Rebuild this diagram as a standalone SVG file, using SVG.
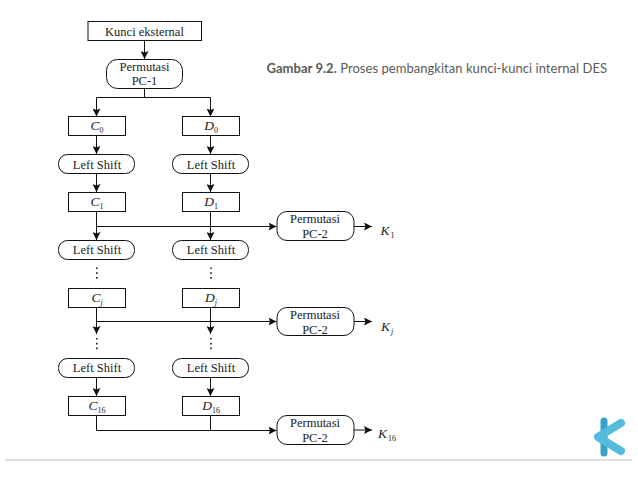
<svg xmlns="http://www.w3.org/2000/svg" width="638" height="479" viewBox="0 0 638 479">
<defs>
<marker id="a" markerUnits="userSpaceOnUse" markerWidth="9" markerHeight="8" refX="8" refY="4" orient="auto"><path d="M0 0L8 4L0 8L1.5 4Z" fill="#111"/></marker>
</defs>
<style>
.b{fill:#fff;stroke:#111;stroke-width:1}
.t{font-family:"Liberation Serif",serif;font-size:12.5px;fill:#222;text-anchor:middle}
.i{font-style:italic;font-size:13.5px}
.s{font-size:8px}
.c{fill:none;stroke:#111;stroke-width:1}
.d{fill:none;stroke:#222;stroke-width:1.6;stroke-dasharray:1.6 3.2}
</style>
<rect width="638" height="479" fill="#fff"/>
<g id="connectors">
<path class="c" marker-end="url(#a)" d="M144.500 40V59"/>
<path class="c" d="M144.500 88V97.500M96.500 97.500H210.500"/>
<path class="c" marker-end="url(#a)" d="M96.500 97.500V116.500"/>
<path class="c" marker-end="url(#a)" d="M210.500 97.500V116.500"/>
<path class="c" marker-end="url(#a)" d="M96.500 135V154"/>
<path class="c" marker-end="url(#a)" d="M210.500 135V154"/>
<path class="c" marker-end="url(#a)" d="M96.500 173V192"/>
<path class="c" marker-end="url(#a)" d="M210.500 173V192"/>
<path class="c" marker-end="url(#a)" d="M96.500 211V240"/>
<path class="c" marker-end="url(#a)" d="M210.500 211V240"/>
<path class="c" marker-end="url(#a)" d="M96.500 226.500H276.500"/>
<path class="c" marker-end="url(#a)" d="M354 226.500H372"/>
<path class="d" d="M96.800 267.500V281"/>
<path class="d" d="M211 267.500V281"/>
<path class="c" marker-end="url(#a)" d="M96.500 307V334"/>
<path class="c" marker-end="url(#a)" d="M210.500 307V334"/>
<path class="c" marker-end="url(#a)" d="M96.500 321.500H276.500"/>
<path class="c" marker-end="url(#a)" d="M354 321.500H372"/>
<path class="d" d="M96.800 338V351"/>
<path class="d" d="M211 338V351"/>
<path class="c" marker-end="url(#a)" d="M96.500 377V396"/>
<path class="c" marker-end="url(#a)" d="M210.500 377V396"/>
<path class="c" d="M96.500 415V430.500H210.500M210.500 415V430.500"/>
<path class="c" marker-end="url(#a)" d="M210.500 430.500H276.500"/>
<path class="c" marker-end="url(#a)" d="M354 430H372"/>
</g>
<g id="kunci"><rect class="b" x="88" y="21.500" width="113.500" height="19"/><text class="t" x="144.500" y="35.500">Kunci eksternal</text></g>
<g id="pc1"><rect class="b" x="106.500" y="59.500" width="76" height="29" rx="11"/><text class="t" x="144.500" y="70.500">Permutasi</text><text class="t" x="144.500" y="85">PC-1</text></g>
<g id="c0"><rect class="b" x="68.500" y="116.500" width="57" height="19"/><text class="t" x="97" y="130"><tspan class="i">C</tspan><tspan class="s" dy="3">0</tspan></text></g>
<g id="d0"><rect class="b" x="182.500" y="116.500" width="57" height="19"/><text class="t" x="211" y="130"><tspan class="i">D</tspan><tspan class="s" dy="3">0</tspan></text></g>
<g id="ls1"><rect class="b" x="58.500" y="154.500" width="76" height="19" rx="9"/><text class="t" x="97" y="168.500">Left Shift</text></g>
<g id="rs1"><rect class="b" x="172.500" y="154.500" width="76" height="19" rx="9"/><text class="t" x="211" y="168.500">Left Shift</text></g>
<g id="c1"><rect class="b" x="68.500" y="192.500" width="57" height="19"/><text class="t" x="97" y="206"><tspan class="i">C</tspan><tspan class="s" dy="3">1</tspan></text></g>
<g id="d1"><rect class="b" x="182.500" y="192.500" width="57" height="19"/><text class="t" x="211" y="206"><tspan class="i">D</tspan><tspan class="s" dy="3">1</tspan></text></g>
<g id="ls2"><rect class="b" x="58.500" y="240.500" width="76" height="19" rx="9"/><text class="t" x="97" y="254">Left Shift</text></g>
<g id="rs2"><rect class="b" x="172.500" y="240.500" width="76" height="19" rx="9"/><text class="t" x="211" y="254">Left Shift</text></g>
<g id="cj"><rect class="b" x="68.500" y="288.500" width="57" height="19"/><text class="t" x="97" y="302"><tspan class="i">C</tspan><tspan class="s" font-style="italic" dy="3">j</tspan></text></g>
<g id="dj"><rect class="b" x="182.500" y="288.500" width="57" height="19"/><text class="t" x="211" y="302"><tspan class="i">D</tspan><tspan class="s" font-style="italic" dy="3">j</tspan></text></g>
<g id="ls3"><rect class="b" x="58.500" y="358.500" width="76" height="19" rx="9"/><text class="t" x="97" y="372">Left Shift</text></g>
<g id="rs3"><rect class="b" x="172.500" y="358.500" width="76" height="19" rx="9"/><text class="t" x="211" y="372">Left Shift</text></g>
<g id="c16"><rect class="b" x="68.500" y="396.500" width="57" height="19"/><text class="t" x="97" y="410"><tspan class="i">C</tspan><tspan class="s" dy="3">16</tspan></text></g>
<g id="d16"><rect class="b" x="182.500" y="396.500" width="57" height="19"/><text class="t" x="211" y="410"><tspan class="i">D</tspan><tspan class="s" dy="3">16</tspan></text></g>
<g id="pc2a"><rect class="b" x="277" y="211.500" width="77" height="29" rx="10"/><text class="t" x="315" y="222.500">Permutasi</text><text class="t" x="315" y="238">PC-2</text></g>
<g id="pc2b"><rect class="b" x="277" y="307.500" width="77" height="28" rx="10"/><text class="t" x="315" y="318.500">Permutasi</text><text class="t" x="315" y="334">PC-2</text></g>
<g id="pc2c"><rect class="b" x="277" y="415.500" width="77" height="29" rx="10"/><text class="t" x="315" y="426.500">Permutasi</text><text class="t" x="315" y="442">PC-2</text></g>
<g id="k1"><text class="t" style="text-anchor:start" x="380.500" y="235"><tspan class="i">K</tspan><tspan class="s" dx="1" dy="3">1</tspan></text></g>
<g id="kj"><text class="t" style="text-anchor:start" x="381" y="331"><tspan class="i">K</tspan><tspan class="s" font-style="italic" dx="1" dy="3">j</tspan></text></g>
<g id="k16"><text class="t" style="text-anchor:start" x="378" y="438"><tspan class="i">K</tspan><tspan class="s" dx="1" dy="3">16</tspan></text></g>
<text x="266.500" y="73" font-family="Lato,'Open Sans',sans-serif" font-size="13" fill="#595959" textLength="340.500" lengthAdjust="spacing"><tspan font-weight="700">Gambar 9.2.</tspan> Proses pembangkitan kunci-kunci internal DES</text>
<path d="M5 460H632" stroke="#d4d4d4" stroke-width="1.500" fill="none"/>
<g fill="none" stroke-linecap="round"><path d="M604 421V453" stroke="#3a9fc9" stroke-width="7"/><path d="M621 423L598 437L621 451" stroke="#55bbdd" stroke-width="8" stroke-linejoin="round"/></g>
</svg>
